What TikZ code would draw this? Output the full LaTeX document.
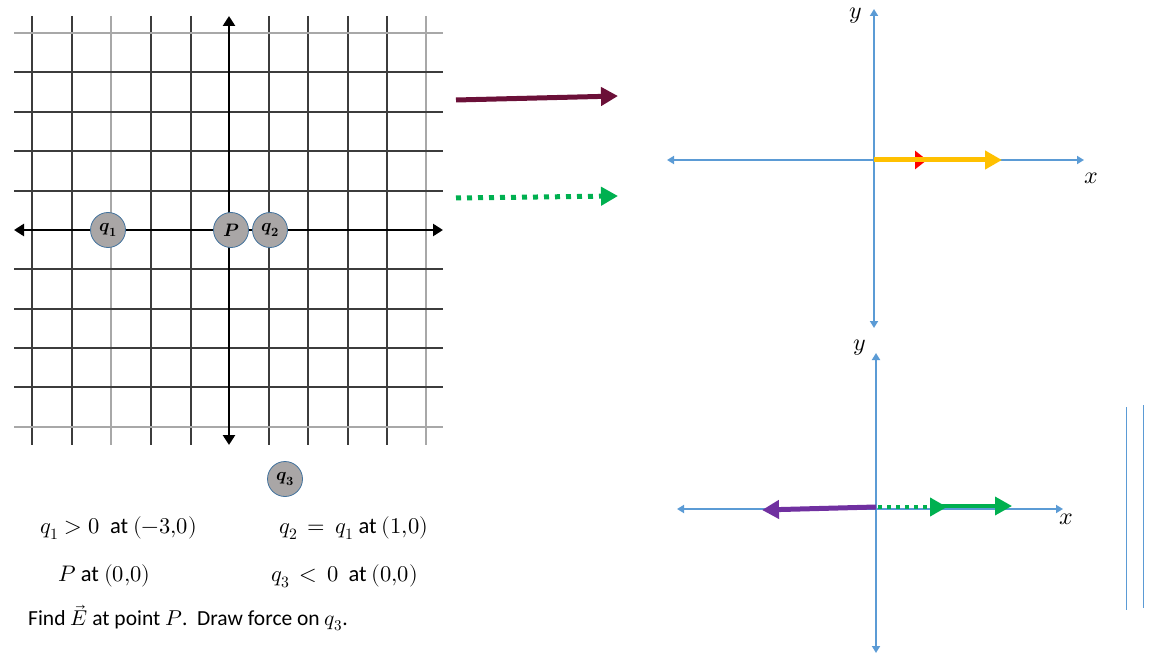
\documentclass[tikz,border=0pt]{standalone}
\usepackage{amsmath,amssymb}
\usepackage{fontspec}
\usepackage{unicode-math}
\setmainfont{Carlito}
\setmathfont{Latin Modern Math}
\usepackage{xcolor}
\usetikzlibrary{arrows.meta,positioning}
\definecolor{gridln}{HTML}{3C3C3C}
\definecolor{gridlt}{HTML}{A8A8A8}
\definecolor{chgfill}{HTML}{A9A6A6}
\definecolor{chgedge}{HTML}{41719C}
\definecolor{axblue}{HTML}{5B9BD5}
\definecolor{emaroon}{HTML}{6B1038}
\definecolor{fgreen}{HTML}{00B050}
\definecolor{fyellow}{HTML}{FFC000}
\definecolor{fred}{HTML}{FF0000}
\definecolor{fpurple}{HTML}{7030A0}
\tikzset{
  gridline/.style={draw=gridln, line width=1.3pt},
  gridlight/.style={draw=gridlt, line width=2pt},
  blackaxis/.style={{Triangle[length=10pt,width=12pt]}-{Triangle[length=10pt,width=12pt]}, line width=2.6pt, draw=black},
  charge/.style={circle, draw=chgedge, line width=0.8pt, fill=chgfill, minimum size=35pt, inner sep=0pt, font=\fontsize{18}{20}\selectfont},
  blueaxis/.style={{Triangle[length=7pt,width=8pt]}-{Triangle[length=7pt,width=8pt]}, line width=2.4pt, draw=axblue},
  vec/.style={-{Triangle[length=17pt,width=18pt]}, line width=5pt},
  txt/.style={font=\fontsize{22.5}{26}\selectfont, inner sep=0pt, anchor=west},
  axlabel/.style={font=\fontsize{24}{28}\selectfont, inner sep=0pt}
}

\begin{document}
\begin{tikzpicture}[x=1pt, y=-1pt]
  \useasboundingbox (0,0) rectangle (1159,655);

  % grid
  \foreach \gx in {32,72,151,191,269,308,348,387}
    \draw[gridline] (\gx,16) -- (\gx,445);
  \foreach \gx in {111,426}
    \draw[gridlight] (\gx,16) -- (\gx,445);
  \foreach \gy in {72,112,151,191,269,309,348,387}
    \draw[gridline] (14,\gy) -- (443,\gy);
  \foreach \gy in {33,427}
    \draw[gridlight] (14,\gy) -- (443,\gy);

  % axes of the grid
  \coordinate (xl) at (14,230);
  \coordinate (xr) at (443,230);
  \coordinate (yt) at (229,16);
  \coordinate (yb) at (229,445);
  \draw[blackaxis] (xl) -- (xr);
  \draw[blackaxis] (yt) -- (yb);

  % charges
  \node[charge] (q1) at (108,230) {$\symbfit{q}_{\symbf{1}}$};
  \node[charge] (P)  at (231,230) {$\symbfit{P}$};
  \node[charge] (q2) at (270,230) {$\symbfit{q}_{\symbf{2}}$};
  \node[charge] (q3) at (285,479) {$\symbfit{q}_{\symbf{3}}$};

  % givens
  \node[txt] (t1) at (40,528)  {$q_1>0$\ \ at $(-3{,}0)$};
  \node[txt] (t2) at (279,528) {$q_2\,=\,q_1$ at $(1{,}0)$};
  \node[txt] (t3) at (58,576)  {$P$ at $(0{,}0)$};
  \node[txt] (t4) at (271,576) {$q_3\,<\,0$\ \ at $(0{,}0)$};
  \node[txt, font=\fontsize{21.5}{25}\selectfont] (t5) at (28,618)  {Find $\vec{E}$ at point $P$.\ \ Draw force on $q_3$.};

  % key arrows
  \coordinate (e1s) at (456,100);
  \coordinate (e1e) at (618,96);
  \coordinate (e2s) at (456,198);
  \coordinate (e2e) at (618,196);
  \draw[vec, emaroon] (e1s) -- (e1e);
  \draw[vec, fgreen, dash pattern=on 5pt off 6pt] (e2s) -- (e2e);

  % field at P
  \coordinate (o1)  at (874,160);
  \coordinate (a1l) at (667,160);
  \coordinate (a1r) at (1084,160);
  \coordinate (a1t) at (874,9);
  \coordinate (a1b) at (874,328);
  \draw[blueaxis] (a1l) -- (a1r);
  \draw[blueaxis] (a1t) -- (a1b);
  \node[axlabel] (y1) at (856,16)  {$y$};
  \node[axlabel] (x1) at (1091,178) {$x$};
  \coordinate (r1)  at (927,160);
  \coordinate (yl1) at (1002,160);
  \draw[vec, fred, -{Triangle[length=12pt,width=18pt]}] (o1) -- (r1);
  \draw[vec, fyellow] (o1) -- (yl1);

  % force on q3
  \coordinate (o2)  at (876,509);
  \coordinate (a2l) at (677,509);
  \coordinate (a2r) at (1063,509);
  \coordinate (a2t) at (876,353);
  \coordinate (a2b) at (876,653);
  \draw[blueaxis] (a2l) -- (a2r);
  \draw[blueaxis] (a2t) -- (a2b);
  \node[axlabel] (y2) at (860,348)  {$y$};
  \node[axlabel] (x2) at (1066,519) {$x$};
  \coordinate (pu1) at (876,507);
  \coordinate (pu2) at (762,510);
  \coordinate (gd1) at (878,507);
  \coordinate (gd2) at (947,507);
  \coordinate (gs1) at (938,506);
  \coordinate (gs2) at (1012,506);
  \draw[vec, fpurple] (pu1) -- (pu2);
  \draw[vec, fgreen, line width=4pt, dash pattern=on 4pt off 5pt] (gd1) -- (gd2);
  \draw[vec, fgreen, line width=3.5pt] (gs1) -- (gs2);

  % side lines
  \coordinate (s1t) at (1126,407);
  \coordinate (s1b) at (1126,610);
  \coordinate (s2t) at (1143,405);
  \coordinate (s2b) at (1143,608);
  \draw[axblue, line width=1pt] (s1t) -- (s1b);
  \draw[axblue, line width=1pt] (s2t) -- (s2b);
\end{tikzpicture}
\end{document}
